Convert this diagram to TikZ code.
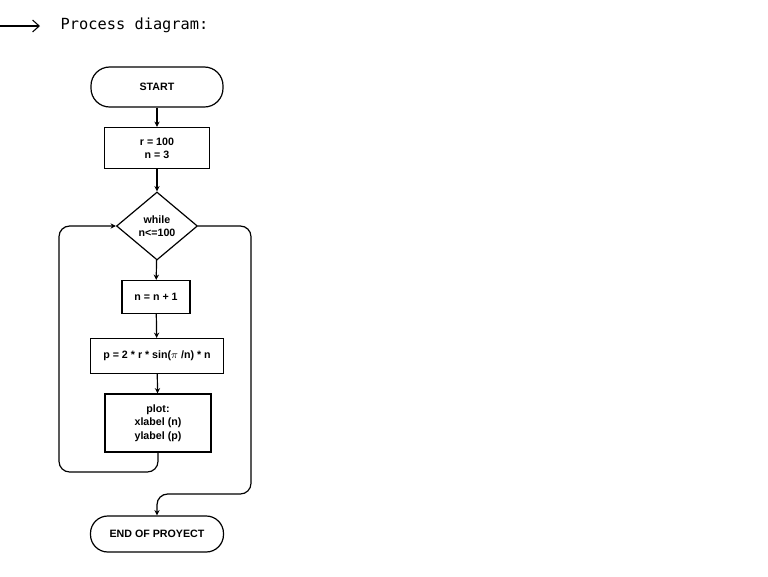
\documentclass[tikz,border=0pt]{standalone}
\usepackage{fontspec}
\setmainfont{Liberation Sans}
\newfontfamily\hdr{DejaVu Sans Mono}
\usetikzlibrary{shapes.geometric,arrows.meta}
\begin{document}
\begin{tikzpicture}[x=0.75pt,y=-0.75pt,
  box/.style={draw,line width=0.9pt,align=center,font=\bfseries\fontsize{8}{10}\selectfont,inner sep=0pt},
  term/.style={box,rounded corners=14pt},
  line/.style={line width=0.9pt,-{Stealth[length=4pt,width=4pt]}},
  loop/.style={line width=0.9pt,rounded corners=8pt,-{Stealth[length=4pt,width=4pt]}}]
\useasboundingbox (0,0) rectangle (768,576);
\coordinate (a0) at (0,26);
\coordinate (a1) at (40,26);
\draw[line width=0.8pt,-{Straight Barb[length=5pt,width=9pt]}] (a0) -- (a1);
\node[anchor=west,font=\hdr\fontsize{11.5}{13}\selectfont] (title) at (56,25) {Process diagram:};
\node[term,minimum width=132*0.75pt,minimum height=40*0.75pt] (start) at (157,87) {START};
\node[box,minimum width=105*0.75pt,minimum height=41*0.75pt] (init) at (157,148) {r = 100\\n = 3};
\node[box,diamond,aspect=1.2,minimum width=81*0.75pt,minimum height=68*0.75pt] (cond) at (157,226) {while\\n<=100};
\node[box,minimum width=68*0.75pt,minimum height=33*0.75pt] (inc) at (156,297) {n = n + 1};
\node[box,minimum width=133*0.75pt,minimum height=35*0.75pt] (calc) at (157,356) {p = 2 * r * sin($\pi$ /n) * n};
\node[box,minimum width=106*0.75pt,minimum height=58*0.75pt] (plot) at (158,423) {plot:\\xlabel (n)\\ylabel (p)};
\node[term,minimum width=133*0.75pt,minimum height=36*0.75pt,rounded corners=13pt] (end) at (157,534) {END OF PROYECT};
\draw[line] (start) -- (init);
\draw[line] (init) -- (cond);
\draw[line] (cond) -- (inc);
\draw[line] (inc) -- (calc);
\draw[line] (calc) -- (plot);
\draw[loop] (plot.south) |- (59,472) |- (cond.west);
\draw[loop] (cond.east) -| (251,494) -| (end.north);
\end{tikzpicture}
\end{document}
